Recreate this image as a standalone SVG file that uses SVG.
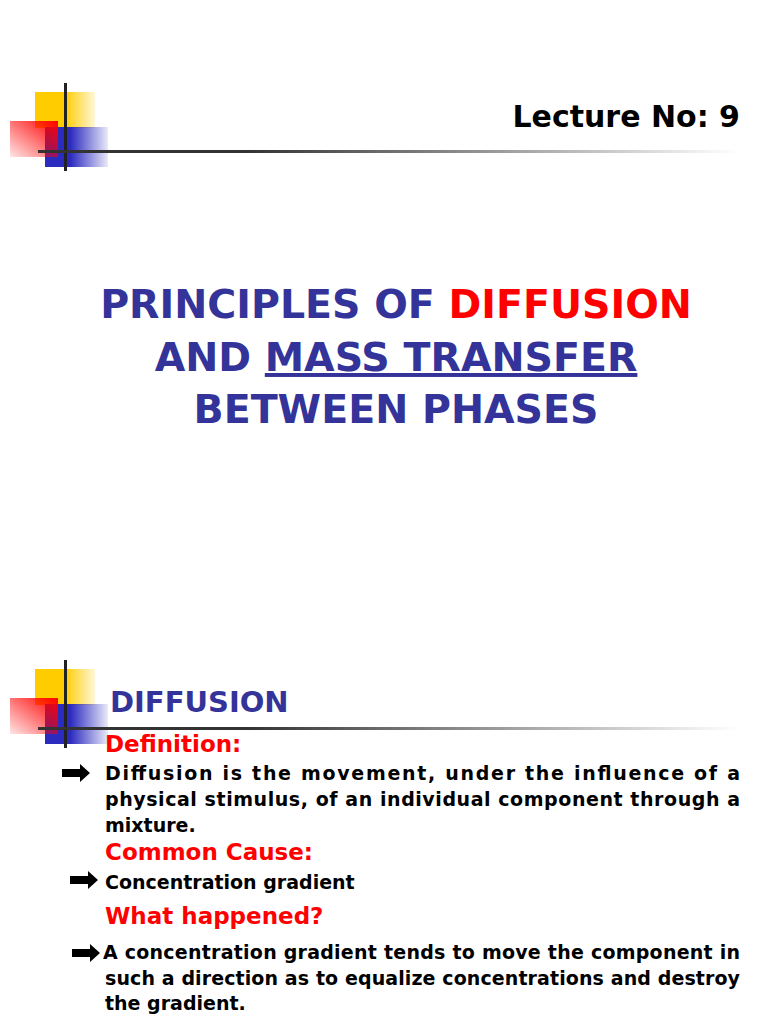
<svg xmlns="http://www.w3.org/2000/svg" width="768" height="1024" viewBox="0 0 768 1024">
<defs>
<linearGradient id="gy" x1="0" x2="1"><stop offset="0.5" stop-color="#ffcc00"/><stop offset="1" stop-color="#ffcc00" stop-opacity="0.15"/></linearGradient>
<linearGradient id="gr" x1="1" y1="0" x2="0" y2="1"><stop offset="0" stop-color="#ff0000"/><stop offset="1" stop-color="#ff0000" stop-opacity="0.1"/></linearGradient>
<linearGradient id="gb" x1="0" x2="1"><stop offset="0.4" stop-color="#2b2bc0"/><stop offset="1" stop-color="#2b2bc0" stop-opacity="0.1"/></linearGradient>
<linearGradient id="gl" x1="0" x2="1"><stop offset="0.3" stop-color="#333"/><stop offset="1" stop-color="#333" stop-opacity="0"/></linearGradient>
<g id="logo">
<rect x="35" y="92" width="60" height="36" fill="url(#gy)"/>
<rect x="45" y="127" width="63" height="40" fill="url(#gb)"/>
<rect x="10" y="121" width="48" height="36" fill="url(#gr)"/>
<rect x="64" y="83" width="3" height="88" fill="#222"/>
<rect x="38" y="150" width="700" height="3" fill="url(#gl)"/>
</g>
<path id="arr" d="M0,-4 H18 V-9 L28,0 L18,9 V4 H0 Z" fill="#000"/>
</defs>
<style>
text{font-family:"DejaVu Sans",Verdana,sans-serif;font-weight:bold}
.t{font-size:39.5px;fill:#333399;text-anchor:middle}
.b{font-size:19px;fill:#000}
.h{font-size:23px;fill:#ff0000}
</style>
<rect width="768" height="1024" fill="#fff"/>
<use href="#logo"/>
<text x="740" y="127" font-size="30" text-anchor="end" fill="#000">Lecture No: 9</text>
<g id="title">
<text class="t" x="396" y="318">PRINCIPLES OF <tspan fill="#ff0000">DIFFUSION</tspan></text>
<text class="t" x="396" y="371">AND <tspan text-decoration="underline">MASS TRANSFER</tspan></text>
<text class="t" x="396" y="423">BETWEEN PHASES</text>
</g>
<use href="#logo" y="577"/>
<text x="110" y="712" font-size="29" fill="#333399">DIFFUSION</text>
<text class="h" x="105" y="752">Definition:</text>
<use href="#arr" x="62" y="773"/>
<text class="b" x="105" y="780" textLength="635" lengthAdjust="spacing">Diffusion is the movement, under the influence of a</text>
<text class="b" x="105" y="806" textLength="635" lengthAdjust="spacing">physical stimulus, of an individual component through a</text>
<text class="b" x="105" y="832">mixture.</text>
<text class="h" x="105" y="860">Common Cause:</text>
<use href="#arr" x="70" y="880"/>
<text class="b" x="105" y="889">Concentration gradient</text>
<text class="h" x="105" y="924">What happened?</text>
<use href="#arr" x="72" y="953"/>
<text class="b" x="103" y="959" textLength="637" lengthAdjust="spacing">A concentration gradient tends to move the component in</text>
<text class="b" x="105" y="985" textLength="635" lengthAdjust="spacing">such a direction as to equalize concentrations and destroy</text>
<text class="b" x="105" y="1010">the gradient.</text>
</svg>
